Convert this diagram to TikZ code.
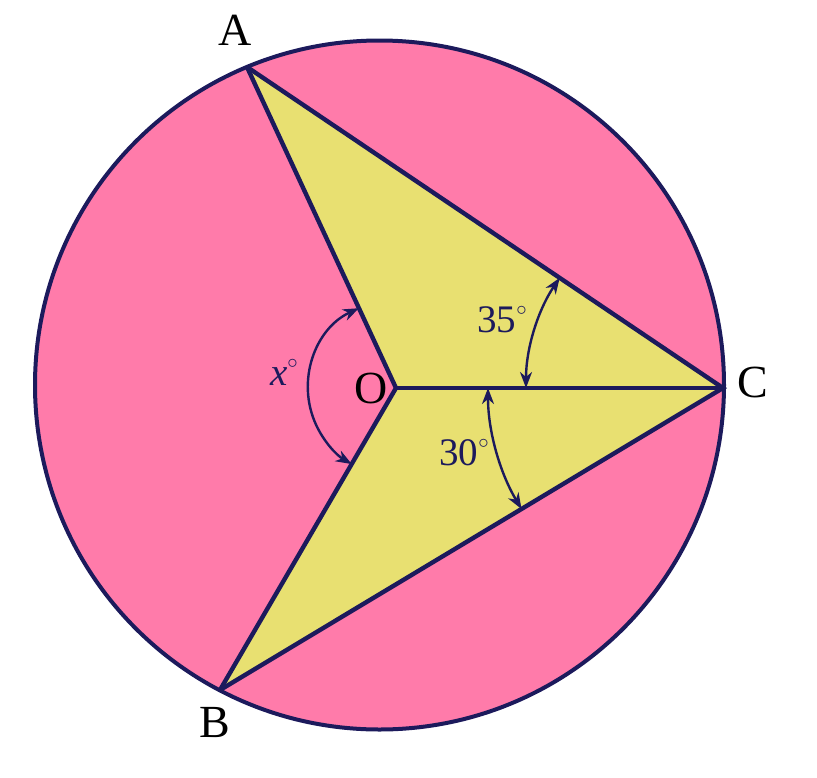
\documentclass[tikz,border=0pt]{standalone}
\usepackage{fontspec}
\setmainfont{Liberation Serif}
\usetikzlibrary{arrows.meta}
\definecolor{pinkfill}{HTML}{FF7BAA}
\definecolor{yellowfill}{HTML}{E8E071}
\definecolor{navy}{HTML}{1C1A5C}
\tikzset{
  edge/.style={draw=navy, line width=4.4pt, line join=miter},
  rim/.style={draw=navy, line width=4pt},
  anglearc/.style={draw=navy, line width=2.4pt, {Stealth[length=16pt,width=12pt,inset=5pt]}-{Stealth[length=16pt,width=12pt,inset=5pt]}},
  ptlabel/.style={font=\fontsize{46}{46}\selectfont, text=black, inner sep=0pt},
  anglabel/.style={font=\fontsize{39}{39}\selectfont, text=navy, inner sep=0pt}
}
\newcommand{\dg}{\raisebox{17pt}{\fontsize{20}{20}\selectfont$\circ$}}
\begin{document}
\begin{tikzpicture}[x=1pt,y=-1pt]
\useasboundingbox (0,0) rectangle (817,777);
\coordinate (Z) at (379.5,385);
\coordinate (A) at (247,67);
\coordinate (B) at (220,690);
\coordinate (C) at (723,388);
\coordinate (O) at (396,388);
\fill[pinkfill] (Z) circle[radius=344.5];
\fill[yellowfill] (A) -- (C) -- (B) -- (O) -- cycle;
\draw[rim] (Z) circle[radius=344.5];
\draw[edge] (A) -- (O) -- (B);
\draw[edge] (O) -- (C);
\draw[edge] (A) -- (C) -- (B);
% angle arcs (y axis flipped: angles measured clockwise)
\draw[anglearc] ([shift={(-114.9:88)}]O) arc[start angle=-114.9, end angle=-239.8, radius=88];
\draw[anglearc] ([shift={(-146:197)}]C) arc[start angle=-146, end angle=-180, radius=197];
\draw[anglearc] ([shift={(-180:235)}]C) arc[start angle=-180, end angle=-211, radius=235];
\node[ptlabel] (lA) at (235,30) {A};
\node[ptlabel] (lB) at (215,722) {B};
\node[ptlabel] (lC) at (753,382) {C};
\node[ptlabel] (lO) at (371,388) {O};
\node[anglabel] (lx) at (284,372) {\textit{x}\dg};
\node[anglabel] (l35) at (502,320) {35\dg};
\node[anglabel] (l30) at (464,453) {30\dg};
\end{tikzpicture}
\end{document}
